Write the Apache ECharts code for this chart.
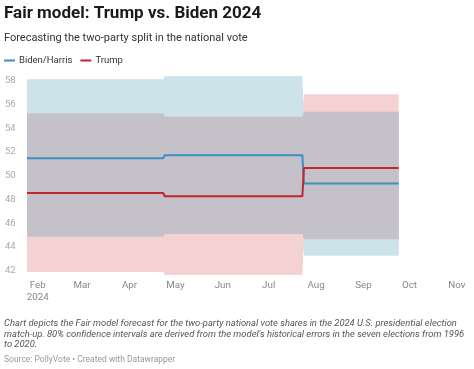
<!DOCTYPE html>
<html><head><meta charset="utf-8">
<script src="https://cdn.jsdelivr.net/npm/echarts@6/dist/echarts.min.js"></script>
<style>html,body{margin:0;padding:0;background:#fff}#c{width:474px;height:369px}</style>
</head><body><div id="c"></div>
<script>
// ---- data ----
const dates = ['2024-01-25','2024-04-23','2024-04-24','2024-07-23','2024-07-24','2024-09-24'];
const bidenHarris = [51.46, 51.46, 51.73, 51.73, 49.35, 49.35];
const trump       = [48.54, 48.54, 48.27, 48.27, 50.65, 50.65];
const bidenLow    = [44.86, 44.86, 45.10, 45.10, 43.25, 43.25];
const bidenHigh   = [58.12, 58.12, 58.40, 58.40, 55.39, 55.39];
const trumpLow    = [41.90, 41.90, 41.64, 41.64, 44.64, 44.64];
const trumpHigh   = [55.25, 55.25, 54.97, 54.97, 56.85, 56.85];
const yTicks = [42, 44, 46, 48, 50, 52, 54, 56, 58];
const xTicks = ['2024-02-01','2024-03-01','2024-04-01','2024-05-01','2024-06-01','2024-07-01','2024-08-01','2024-09-01','2024-10-01','2024-11-01'];
const monthNames = ['Jan','Feb','Mar','Apr','May','Jun','Jul','Aug','Sep','Oct','Nov','Dec'];
const axisStart = '2024-01-25', axisEnd = '2024-11-05';

function t(s){ const p = s.split('-').map(Number); return new Date(p[0], p[1]-1, p[2]).getTime(); }
const pts = arr => arr.map((v,i) => [t(dates[i]), v]);
const ovLow = bidenLow.map((v,i) => Math.max(v, trumpLow[i]));
const ovHigh = bidenHigh.map((v,i) => Math.min(v, trumpHigh[i]));

const FONT = 'Roboto, "Noto Sans", sans-serif';
function band(lo, hi, color){
  return {
    type:'custom', silent:true, z:1, clip:true,
    data:[[t(dates[0]), lo[0]]],
    renderItem:(params, api) => {
      const top = dates.map((d,i) => api.coord([t(d), hi[i]]));
      const bot = dates.map((d,i) => api.coord([t(d), lo[i]])).reverse();
      return {type:'polygon', shape:{points: top.concat(bot)}, style:{fill: color}};
    }
  };
}

const chart = echarts.init(document.getElementById('c'), null, {renderer:'canvas'});
chart.setOption({
  animation:false,
  textStyle:{fontFamily:FONT},
  title:[
    {text:'Fair model: Trump vs. Biden 2024', left:4, top:3.5, padding:0,
     textStyle:{fontFamily:FONT, fontSize:17, fontWeight:'bold', color:'#1a1a1a', lineHeight:21}},
    {text:'Forecasting the two-party split in the national vote', left:4, top:31, padding:0,
     textStyle:{fontFamily:FONT, fontSize:11, fontWeight:'normal', color:'#333', lineHeight:14}},
    {text:"Chart depicts the Fair model forecast for the two-party national vote shares in the 2024 U.S. presidential election\nmatch-up. 80% confidence intervals are derived from the model's historical errors in the seven elections from 1996\nto 2020.",
     left:4, top:318, padding:0,
     textStyle:{fontFamily:FONT, fontSize:9.4, fontStyle:'italic', fontWeight:'normal', color:'#555', lineHeight:10.8}},
    {text:'Source: PollyVote • Created with Datawrapper', left:4, top:353.5, padding:0,
     textStyle:{fontFamily:FONT, fontSize:8.5, fontWeight:'normal', color:'#999', lineHeight:12}}
  ],
  legend:{
    data:['Biden/Harris','Trump'], left:4, top:55.5, padding:0, itemGap:8,
    itemWidth:11, itemHeight:2, icon:'rect',
    textStyle:{fontFamily:FONT, fontSize:9.5, color:'#333', padding:[0,0,0,-1]}
  },
  grid:{left:27, right:11, top:74.76, bottom:92.36, containLabel:false},
  xAxis:{
    type:'value', min:t(axisStart), max:t(axisEnd),
    axisLine:{show:false}, axisTick:{show:false}, splitLine:{show:false},
    axisLabel:{
      customValues: xTicks.map(t), margin:3, color:'#888', fontSize:9.8, lineHeight:12, fontFamily:FONT,
      hideOverlap:false,
      formatter: v => { const d = new Date(v); const m = monthNames[d.getMonth()];
        return v === t(xTicks[0]) ? m + '\n' + d.getFullYear() : m; }
    }
  },
  yAxis:{
    type:'value', min:41.5, max:58.5,
    axisLine:{show:false}, axisTick:{show:false}, splitLine:{show:false},
    axisLabel:{customValues:yTicks, align:'left', margin:22, color:'#aaa', fontSize:9.5, fontFamily:FONT}
  },
  series:[
    band(bidenLow, bidenHigh, '#cce3ea'),
    band(trumpLow, trumpHigh, '#f4d2d3'),
    band(ovLow, ovHigh, '#c4c1c8'),
    {name:'Biden/Harris', type:'line', data:pts(bidenHarris), symbol:'none', z:5,
     lineStyle:{color:'#3a8fc0', width:2}, itemStyle:{color:'#3a8fc0'}},
    {name:'Trump', type:'line', data:pts(trump), symbol:'none', z:5,
     lineStyle:{color:'#c1272d', width:2}, itemStyle:{color:'#c1272d'}}
  ]
});
</script></body></html>
